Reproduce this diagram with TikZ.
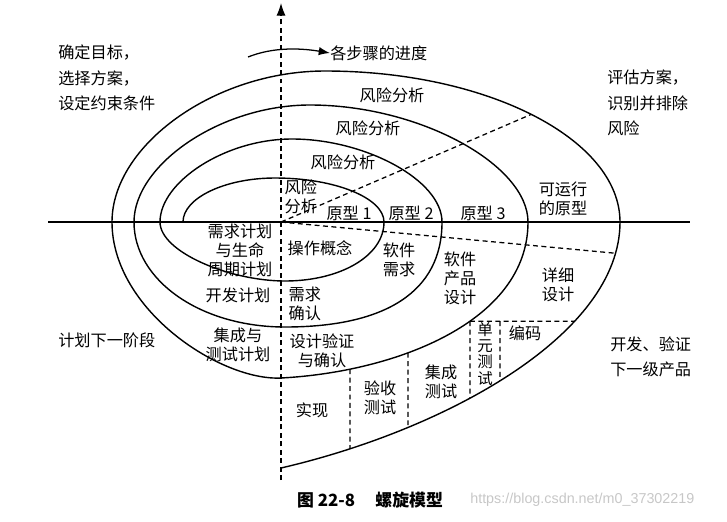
\documentclass[tikz,border=0pt]{standalone}
\usepackage{fontspec}
\setmainfont{Noto Sans CJK SC}
\newfontfamily\urlfont{Liberation Sans}
\usepackage{tikz}
\usetikzlibrary{arrows.meta, intersections}

\begin{document}
\begin{tikzpicture}[
    x=0.025cm, y=-0.025cm,
    spiral/.style = {line width=1pt, black},
    dsh/.style    = {line width=0.9pt, dash pattern=on 3.5pt off 2.5pt},
    lbl/.style    = {inner sep=1pt, align=center, font=\fontsize{11.5}{13.5}\selectfont},
    note/.style   = {inner sep=0pt, anchor=west, align=left, font=\fontsize{11.5}{18}\selectfont},
    arr/.style    = {line width=0.9pt, -{Latex[length=8pt,width=6pt]}},
  ]
    \useasboundingbox (0,0) rectangle (727,521);

    % ── Axes ─────────────────────────────────────────────────
    \coordinate (o)   at (281,222);
    \coordinate (axL) at (48,222);
    \coordinate (axR) at (690,222);
    \coordinate (axB) at (281,480);
    \coordinate (axT) at (281,3);
    \draw[line width=0.9pt] (axL) -- (axR);
    \draw[dsh, -{Latex[length=9pt,width=6.5pt]}] (axB) -- (axT);

    % ── Spiral, half a turn at a time ────────────────────────
    \draw[spiral, name path=u1] (183,222) .. controls (183,198) and (225,178) .. (275,178)
                                          .. controls (335,178) and (384,198) .. (384,222);
    \draw[spiral, name path=d1] (384,222) .. controls (384,256) and (340,281) .. (285,281)
                                          .. controls (230,281) and (160,252) .. (160,222);
    \draw[spiral, name path=u2] (160,222) .. controls (160,182) and (225,139) .. (292,139)
                                          .. controls (365,139) and (442,180) .. (442,222);
    \draw[spiral, name path=d2] (442,222) .. controls (442,292) and (385,327) .. (285,327)
                                          .. controls (200,327) and (134,280) .. (134,222);
    \draw[spiral, name path=u3] (134,222) .. controls (134,165) and (220,105) .. (310,105)
                                          .. controls (420,105) and (528,165) .. (528,222);
    \draw[spiral, name path=d3] (528,222) .. controls (528,322) and (395,372) .. (281,378)
                                          .. controls (221,381) and (112,310) .. (112,222);
    \draw[spiral, name path=u4] (112,222) .. controls (112,145) and (215,71) .. (325,71)
                                          .. controls (487,71) and (620,139) .. (620,222);
    \draw[spiral, name path=d4] (620,222) .. controls (620,335) and (445,430) .. (281,468);

    % ── Radial dashed lines ──────────────────────────────────
    \path[name path=rayup] (o) -- (560,102);
    \path[name path=raydn] (o) -- (645,256);
    \path[name intersections={of=rayup and u4, by=ru}];
    \path[name intersections={of=raydn and d4, by=rd}];
    \draw[dsh] (o) -- (ru);
    \draw[dsh] (o) -- (rd);

    % ── Dashed cells of the last turn ────────────────────────
    \path[name path=v1] (350,300) -- (350,500);
    \path[name path=v2] (408,300) -- (408,500);
    \path[name path=v3] (470,280) -- (470,500);
    \path[name path=v4] (500,280) -- (500,500);
    \path[name intersections={of=v1 and d3, by=s1t}];
    \path[name intersections={of=v1 and d4, by=s1b}];
    \path[name intersections={of=v2 and d3, by=s2t}];
    \path[name intersections={of=v2 and d4, by=s2b}];
    \path[name intersections={of=v3 and d3, by=c1}];
    \path[name intersections={of=v3 and d4, by=s3b}];
    \path[name path=hz] (c1) -- ++(160,0);
    \path[name intersections={of=hz and d4, by=c3}];
    \path[name intersections={of=hz and v4, by=c2}];
    \path[name intersections={of=v4 and d4, by=s4b}];
    \draw[dsh] (s1t) -- (s1b);
    \draw[dsh] (s2t) -- (s2b);
    \draw[dsh] (c1) -- (s3b);
    \draw[dsh] (c1) -- (c3);
    \draw[dsh] (c2) -- (s4b);

    % ── Corner notes ─────────────────────────────────────────
    \node[note] (goals)    at (58,78)   {确定目标，\\选择方案，\\设定约束条件};
    \node[note] (evalrisk) at (607,103) {评估方案，\\识别并排除\\风险};
    \node[note] (plannext) at (58,340)  {计划下一阶段};
    \node[note] (devnext)  at (610,357) {开发、验证\\下一级产品};
    \node[note] (progress) at (330,53)  {各步骤的进度};
    \coordinate (sweep) at (248,57);
    \draw[arr] (sweep) .. controls +(25,-10) and +(-30,-5) .. (progress.west);

    % ── Upper half: risk analysis and prototypes ─────────────
    \node[lbl] (risk4) at (392,95)  {风险分析};
    \node[lbl] (risk3) at (368,128) {风险分析};
    \node[lbl] (risk2) at (343,162) {风险分析};
    \node[lbl, align=left, anchor=west] (risk1) at (283,197) {风险\\分析};
    \node[lbl] (proto1)   at (349,213) {原型 1};
    \node[lbl] (proto2)   at (411,213) {原型 2};
    \node[lbl] (proto3)   at (483,213) {原型 3};
    \node[lbl] (runproto) at (563,199) {可运行\\的原型};

    % ── Lower half: plans and products ───────────────────────
    \node[lbl] (reqplan) at (240,250) {需求计划\\与生命\\周期计划};
    \node[lbl] (opcon)   at (320,248) {操作概念};
    \node[lbl] (swreq)   at (399,260) {软件\\需求};
    \node[lbl] (prodes)  at (460,278) {软件\\产品\\设计};
    \node[lbl] (detdes)  at (558,285) {详细\\设计};
    \node[lbl] (devplan) at (238,295) {开发计划};
    \node[lbl, align=left, anchor=west] (reqconf) at (287,304) {需求\\确认};
    \node[lbl] (intplan) at (238,345) {集成与\\测试计划};
    \node[lbl] (desval)  at (322,351) {设计验证\\与确认};
    \node[lbl] (impl)    at (312,410) {实现};
    \node[lbl] (acctest) at (380,398) {验收\\测试};
    \node[lbl] (inttest) at (441,382) {集成\\测试};
    \node[lbl, font=\fontsize{11}{11.5}\selectfont] (unittest) at (485,354) {单\\元\\测\\试};
    \node[lbl] (coding)  at (525,333) {编码};

    % ── Caption ──────────────────────────────────────────────
    \node[lbl, font=\fontsize{12}{14}\selectfont\bfseries] (caption) at (370,500) {图 22-8\hspace{1.2em}螺旋模型};
    \node[inner sep=0pt, anchor=west, text=black!22, font=\urlfont\fontsize{10.2}{12}\selectfont] (wmark) at (470,500) {https://blog.csdn.net/m0\_37302219};

  \end{tikzpicture}
\end{document}
